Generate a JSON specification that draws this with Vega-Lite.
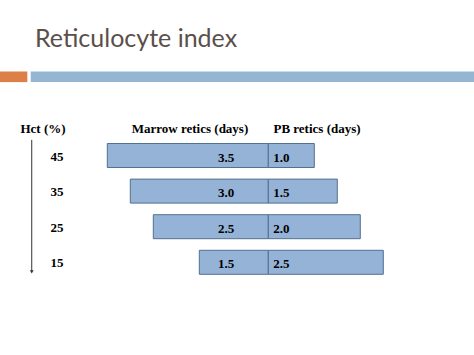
{
  "$schema": "https://vega.github.io/schema/vega-lite/v6.json",
  "autosize": "none",
  "width": 474,
  "height": 295,
  "padding": {"top": 60, "left": 0, "right": 0, "bottom": 0},
  "background": "white",
  "config": {"view": {"stroke": null}},
  "title": {
    "text": "Reticulocyte index",
    "anchor": "start",
    "frame": "group",
    "dx": 35,
    "offset": -12,
    "baseline": "alphabetic",
    "font": "Lato",
    "fontSize": 25,
    "fontWeight": "normal",
    "color": "#5b4f4a"
  },
  "data": {"values": [
    {"hct": 45, "marrow": 3.5, "marrowStart": -3.5, "pb": 1.0},
    {"hct": 35, "marrow": 3.0, "marrowStart": -3.0, "pb": 1.5},
    {"hct": 25, "marrow": 2.5, "marrowStart": -2.5, "pb": 2.0},
    {"hct": 15, "marrow": 1.5, "marrowStart": -1.5, "pb": 2.5}
  ]},
  "encoding": {
    "x": {"type": "quantitative", "scale": {"domain": [-5.833, 4.472], "nice": false, "zero": false}, "axis": null},
    "y": {"type": "quantitative", "scale": {"domain": [-9.65, 70.44], "nice": false, "zero": false}, "axis": null}
  },
  "layer": [
    {
      "mark": {"type": "bar", "fill": "#95b3d7", "stroke": "#52708e", "strokeWidth": 1, "size": 24},
      "encoding": {
        "x": {"field": "marrowStart", "type": "quantitative"},
        "x2": {"datum": 0},
        "y": {"field": "hct", "type": "quantitative"}
      }
    },
    {
      "mark": {"type": "bar", "fill": "#95b3d7", "stroke": "#52708e", "strokeWidth": 1, "size": 24},
      "encoding": {
        "x": {"field": "pb", "type": "quantitative"},
        "x2": {"datum": 0},
        "y": {"field": "hct", "type": "quantitative"}
      }
    },
    {
      "mark": {"type": "text", "font": "Liberation Serif", "fontSize": 13, "fontWeight": "bold", "color": "#000000", "align": "center", "baseline": "middle", "dy": 1},
      "encoding": {
        "x": {"datum": -4.593, "type": "quantitative"},
        "y": {"field": "hct", "type": "quantitative"},
        "text": {"field": "hct", "type": "quantitative"}
      }
    },
    {
      "mark": {"type": "text", "font": "Liberation Serif", "fontSize": 13, "fontWeight": "bold", "color": "#000000", "align": "right", "baseline": "middle", "dx": -34, "dy": 2},
      "encoding": {
        "x": {"datum": 0, "type": "quantitative"},
        "y": {"field": "hct", "type": "quantitative"},
        "text": {"field": "marrow", "type": "quantitative", "format": ".1f"}
      }
    },
    {
      "mark": {"type": "text", "font": "Liberation Serif", "fontSize": 13, "fontWeight": "bold", "color": "#000000", "align": "left", "baseline": "middle", "dx": 5, "dy": 2},
      "encoding": {
        "x": {"datum": 0, "type": "quantitative"},
        "y": {"field": "hct", "type": "quantitative"},
        "text": {"field": "pb", "type": "quantitative", "format": ".1f"}
      }
    },
    {
      "data": {"values": [{"label": "Hct (%)", "pos": -4.898}, {"label": "Marrow retics (days)", "pos": -1.702}, {"label": "PB retics (days)", "pos": 1.059}]},
      "mark": {"type": "text", "font": "Liberation Serif", "fontSize": 13, "fontWeight": "bold", "color": "#000000", "baseline": "alphabetic", "align": "center"},
      "encoding": {
        "x": {"field": "pos", "type": "quantitative"},
        "y": {"datum": 51.24, "type": "quantitative"},
        "text": {"field": "label", "type": "nominal"}
      }
    },
    {
      "data": {"values": [{"part": "accent", "a": -5.833, "b": -5.239}, {"part": "band", "a": -5.165, "b": 4.472}]},
      "mark": {"type": "rect"},
      "encoding": {
        "x": {"field": "a", "type": "quantitative"},
        "x2": {"field": "b"},
        "y": {"datum": 68.62, "type": "quantitative"},
        "y2": {"datum": 65.63},
        "color": {"field": "part", "type": "nominal", "scale": {"domain": ["accent", "band"], "range": ["#dd8047", "#94b6d2"]}, "legend": null}
      }
    },
    {
      "data": {"values": [{"top": 49.4, "bottom": 12.5}]},
      "mark": {"type": "rule", "color": "#333333", "strokeWidth": 1},
      "encoding": {
        "x": {"datum": -5.143, "type": "quantitative"},
        "y": {"field": "top", "type": "quantitative"},
        "y2": {"field": "bottom"}
      }
    },
    {
      "data": {"values": [{"tip": 12.3}]},
      "mark": {"type": "point", "shape": "triangle-down", "filled": true, "color": "#333333", "size": 14, "opacity": 1},
      "encoding": {
        "x": {"datum": -5.143, "type": "quantitative"},
        "y": {"field": "tip", "type": "quantitative"}
      }
    }
  ]
}
